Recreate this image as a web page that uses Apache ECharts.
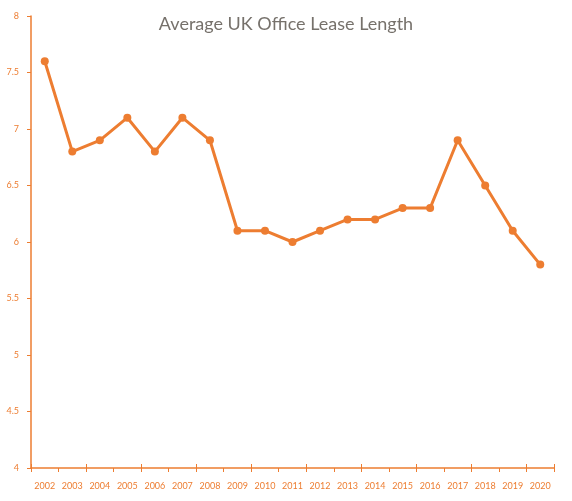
<!DOCTYPE html>
<html>
<head>
<meta charset="utf-8">
<script src="https://cdn.jsdelivr.net/npm/echarts@6/dist/echarts.min.js"></script>
<style>
  html, body { margin: 0; padding: 0; background: #fff; }
  #main { width: 572px; height: 501px; }
</style>
</head>
<body>
<div id="main"></div>
<script>
var years = ['2002', '2003', '2004', '2005', '2006', '2007', '2008', '2009', '2010', '2011',
    '2012', '2013', '2014', '2015', '2016', '2017', '2018', '2019', '2020'];
var leaseLength = [7.6, 6.8, 6.9, 7.1, 6.8, 7.1, 6.9, 6.1, 6.1, 6.0,
    6.1, 6.2, 6.2, 6.3, 6.3, 6.9, 6.5, 6.1, 5.8];

var orange = '#ED7D31';
var myChart = echarts.init(document.getElementById('main'));
var option = {
    animation: false,
    title: {
        text: 'Average UK Office Lease Length',
        left: 'center',
        top: 10,
        textStyle: {
            color: '#76716b',
            fontSize: 18,
            fontWeight: 'normal',
            fontFamily: 'Lato'
        }
    },
    grid: { left: 31, right: 18, top: 16, bottom: 33 },
    xAxis: [
        {
            type: 'category',
            data: years,
            boundaryGap: true,
            axisLine: { lineStyle: { color: orange, width: 1.5 } },
            axisTick: { show: true, length: 4, lineStyle: { color: orange } },
            axisLabel: { color: orange, fontSize: 9, margin: 14, fontFamily: 'Lato' }
        },
        {
            // second copy only to draw the inner half of the crossing ticks
            type: 'category',
            data: years,
            position: 'bottom',
            boundaryGap: true,
            axisLine: { show: false },
            axisTick: { show: true, inside: true, length: 4, lineStyle: { color: orange } },
            axisLabel: { show: false }
        }
    ],
    yAxis: {
        type: 'value',
        min: 4,
        max: 8,
        interval: 0.5,
        axisLine: { show: true, lineStyle: { color: orange, width: 1.5 } },
        axisTick: { show: true, length: 4, lineStyle: { color: orange } },
        axisLabel: { color: orange, fontSize: 9, margin: 12, fontFamily: 'Lato' },
        splitLine: { show: false }
    },
    series: [
        {
            name: 'Lease length',
            type: 'line',
            data: leaseLength,
            symbol: 'circle',
            symbolSize: 8,
            lineStyle: { color: orange, width: 3 },
            itemStyle: { color: orange }
        }
    ]
};
myChart.setOption(option);
</script>
</body>
</html>
